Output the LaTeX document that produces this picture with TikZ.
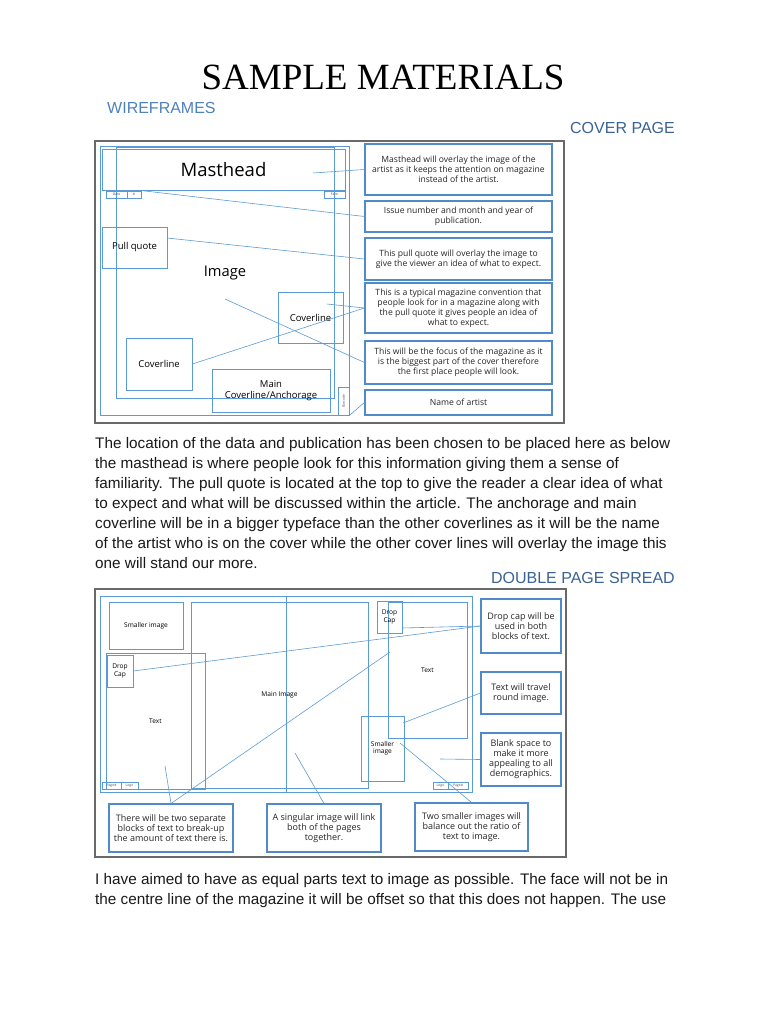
\documentclass[tikz,border=0pt]{standalone}
\usepackage{fontspec}
\setmainfont{Liberation Sans}
\newfontfamily\titlefont{Liberation Serif}
\newfontfamily\wffont{Open Sans}
\usetikzlibrary{positioning}
\definecolor{wfblue}{RGB}{91,155,213}
\definecolor{wfnote}{RGB}{80,138,200}
\definecolor{wfhead}{RGB}{79,129,189}
\definecolor{wfheaddark}{RGB}{58,98,148}
\definecolor{wfgray}{RGB}{105,105,105}
\tikzset{
  boxsize/.style 2 args={minimum width=#1pt, minimum height=#2pt},
  pageframe/.style={rectangle, draw=wfgray, line width=1.3pt, inner sep=0pt},
  wfbox/.style={
    rectangle, draw=wfblue, line width=0.8pt, inner sep=0pt,
    align=center, font=\wffont\fontsize{9.5}{10.5}\selectfont
  },
  tinybox/.style={wfbox, font=\wffont\fontsize{3.4}{4}\selectfont, text=black!70},
  spreadbox/.style={wfbox, font=\wffont\fontsize{6.6}{7.5}\selectfont},
  notebox/.style={
    rectangle, draw=wfnote, line width=1.1pt, fill=white, inner sep=0pt,
    align=center, text=black!85, font=\wffont\fontsize{8.6}{10}\selectfont
  },
  spreadnote/.style={notebox, font=\wffont\fontsize{9}{10}\selectfont},
  link/.style={draw=wfblue, line width=0.6pt},
  heading/.style={text=wfhead, font=\fontsize{16}{18}\selectfont, inner sep=0pt},
  bodytext/.style={align=left, inner sep=0pt, text=black!90, font=\fontsize{15.3}{20}\selectfont}
}
\begin{document}
\begin{tikzpicture}[x=1pt, y=-1pt]
\useasboundingbox (0,0) rectangle (768,1024);

% headings
\node[font=\titlefont\fontsize{37}{40}\selectfont] (title) at (383,77) {SAMPLE MATERIALS};
\node[heading, anchor=west] (wireframes) at (107,108) {WIREFRAMES};
\node[heading, text=wfheaddark, anchor=east] (coverhead) at (675,128) {COVER PAGE};

% cover page wireframe
\node[pageframe, boxsize={469}{282}] (coverframe) at (329.5,282) {};
\node[wfbox, boxsize={249}{269}] (coverouter) at (224.5,280.5) {};
\node[wfbox, boxsize={218}{251}] (coverinner) at (225,272.5) {};
\node[wfbox, boxsize={243}{41}, font=\wffont\fontsize{18.5}{20}\selectfont] (masthead) at (223.5,169.5) {Masthead};
\node[tinybox, boxsize={21}{7}] (date) at (116.5,194.5) {Date};
\node[tinybox, boxsize={14}{7}] (issue) at (134,194.5) {\#};
\node[tinybox, boxsize={21}{7}] (face) at (334.5,194.5) {Face};
\node[wfbox, boxsize={65}{41}] (pullquote) at (134.5,247.5) {Pull quote};
\node[font=\wffont\fontsize{14.7}{16}\selectfont] (image) at (225,273) {Image};
\node[wfbox, boxsize={65}{51}] (coverlineR) at (310.5,317.5) {Coverline};
\node[wfbox, boxsize={66}{52}] (coverlineL) at (159,364) {Coverline};
\node[wfbox, boxsize={118}{43}] (anchorage) at (271,390.5) {Main\\Coverline/Anchorage};
\node[tinybox, boxsize={28}{11}, rotate=90] (barcode) at (343.5,401) {Barcode};

\node[notebox, boxsize={187}{51}] (note1) at (458.5,169.5) {Masthead will overlay the image of the\\artist as it keeps the attention on magazine\\instead of the artist.};
\node[notebox, boxsize={187}{31}] (note2) at (458.5,216.5) {Issue number and month and year of\\publication.};
\node[notebox, boxsize={187}{42}] (note3) at (458.5,259) {This pull quote will overlay the image to\\give the viewer an idea of what to expect.};
\node[notebox, boxsize={187}{50}] (note4) at (458.5,308) {This is a typical magazine convention that\\people look for in a magazine along with\\the pull quote it gives people an idea of\\what to expect.};
\node[notebox, boxsize={187}{43}] (note5) at (458.5,362.5) {This will be the focus of the magazine as it\\is the biggest part of the cover therefore\\the first place people will look.};
\node[notebox, boxsize={187}{25}] (note6) at (458.5,402.5) {Name of artist};

\coordinate (mastheadpt) at (313,173);
\coordinate (pullpt) at (167,238);
\coordinate (coverlinept) at (327,304);
\coordinate (imagept) at (225,299);
\draw[link] (mastheadpt) -- (note1.west);
\draw[link] (issue.north east) -- (note2.west);
\draw[link] (pullpt) -- (note3.west);
\draw[link] (coverlinept) -- (note4.west);
\draw[link] (coverlineL.east) -- (note4.west);
\draw[link] (imagept) -- (note5.west);
\draw[link] (barcode.south west) -- (note6.west);

% paragraph
\node[bodytext, anchor=north west] (para1) at (95,437) {The location of the data and publication has been chosen to be placed here as below\\
the masthead is where people look for this information giving them a sense of\\
familiarity. The pull quote is located at the top to give the reader a clear idea of what\\
to expect and what will be discussed within the article. The anchorage and main\\
coverline will be in a bigger typeface than the other coverlines as it will be the name\\
of the artist who is on the cover while the other cover lines will overlay the image this\\
one will stand our more.};

\node[heading, text=wfheaddark, anchor=east] (spreadhead) at (675,578) {DOUBLE PAGE SPREAD};

% double page spread wireframe
\node[pageframe, boxsize={471}{268}] (spreadframe) at (330.5,723) {};
\node[wfbox, boxsize={372}{196}] (spreadouter) at (286,694) {};
\draw[wfblue, line width=0.8pt] (spreadouter.north) -- (spreadouter.south);
\node[spreadbox, boxsize={74}{47}] (smallimgL) at (146,625.5) {Smaller image};
\node[spreadbox, boxsize={99}{136}] (textL) at (155.5,721) {Text};
\node[spreadbox, boxsize={26}{32}] (dropcapL) at (120,671) {Drop\\Cap};
\node[spreadbox, boxsize={177}{186}] (mainimg) at (279.5,695) {Main Image};
\node[spreadbox, boxsize={79}{136}] (textR) at (427.5,670) {Text};
\node[spreadbox, boxsize={25}{32}] (dropcapR) at (389.5,617) {Drop\\Cap};
\node[spreadbox, boxsize={43}{65}] (smallimgR) at (382.5,748.5) {Smaller\\image};
\node[tinybox, boxsize={19}{7}] (pageL) at (111.5,785.5) {Page\#};
\node[tinybox, boxsize={17}{7}] (logoL) at (129.5,785.5) {Logo};
\node[tinybox, boxsize={15}{7}] (logoR) at (440.5,785.5) {Logo};
\node[tinybox, boxsize={20}{7}] (pageR) at (458,785.5) {Page\#};

\node[spreadnote, boxsize={80}{54}] (dnote1) at (521,626) {Drop cap will be\\used in both\\blocks of text.};
\node[spreadnote, boxsize={80}{42}] (dnote2) at (521,693) {Text will travel\\round image.};
\node[spreadnote, boxsize={80}{53}] (dnote3) at (521,759.5) {Blank space to\\make it more\\appealing to all\\demographics.};
\node[spreadnote, boxsize={124}{48}] (dnoteA) at (171,828) {There will be two separate\\blocks of text to break-up\\the amount of text there is.};
\node[spreadnote, boxsize={114}{48}] (dnoteB) at (324,828) {A singular image will link\\both of the pages\\together.};
\node[spreadnote, boxsize={113}{48}] (dnoteC) at (471.5,827) {Two smaller images will\\balance out the ratio of\\text to image.};

\coordinate (dropcapRpt) at (402,628);
\coordinate (roundpt) at (403,723);
\coordinate (blankpt) at (440,759);
\coordinate (smallimgpt) at (400,743);
\coordinate (mainimgpt) at (295,753);
\coordinate (textLpt) at (165,766);
\coordinate (textRpt) at (390,652);
\draw[link] (dropcapL.east) -- (dnote1.west);
\draw[link] (dropcapRpt) -- (dnote1.west);
\draw[link] (roundpt) -- (dnote2.west);
\draw[link] (blankpt) -- (dnote3.west);
\draw[link] (smallimgpt) -- (dnoteC.north);
\draw[link] (mainimgpt) -- (dnoteB.north);
\draw[link] (textLpt) -- (dnoteA.north);
\draw[link] (textRpt) -- (dnoteA.north);

% paragraph
\node[bodytext, anchor=north west] (para2) at (95,873) {I have aimed to have as equal parts text to image as possible. The face will not be in\\
the centre line of the magazine it will be offset so that this does not happen. The use};
\end{tikzpicture}
\end{document}
